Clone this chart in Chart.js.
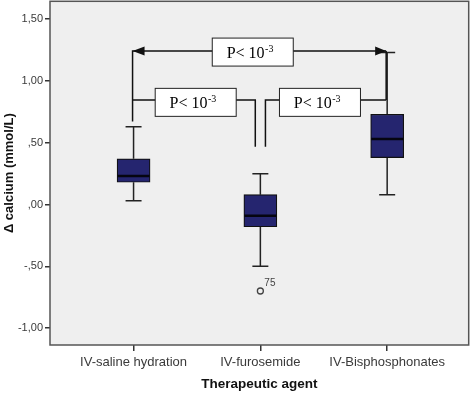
<!DOCTYPE html>
<html>
<head>
<meta charset="utf-8">
<script src="https://cdn.jsdelivr.net/npm/chart.js@4.4.0/dist/chart.umd.min.js"></script>
<style>
  html, body { margin: 0; padding: 0; background: #fff; overflow: hidden; }
  #wrap { width: 474px; height: 399px; margin-top: -4px; }
</style>
</head>
<body>
<div id="wrap"><canvas id="boxChart"></canvas></div>
<script>
// Box plot summaries, change of calcium (mmol/L) per therapeutic agent
var agents = ["IV-saline hydration", "IV-furosemide", "IV-Bisphosphonates"];
var whiskerLow = [0.03, -0.50, 0.08];
var quartile1 = [0.18, -0.18, 0.38];
var medians = [0.23, -0.09, 0.53];
var quartile3 = [0.37, 0.08, 0.73];
var whiskerHigh = [0.63, 0.25, 1.23];

// outliers
var outlierAgent = [2];
var outlierValues = [-0.70];
var outlierIds = ["75"];

var yTicks = [-1, -0.5, 0, 0.5, 1, 1.5];

// significance brackets (value levels) and their labels
var pText = "P< 10";
var pExp = "-3";
var bracketTop = 1.242;
var bracketMid = 0.847;
var saltDrop = 0.672;
var furoDrop = 0.468;
var pLabels = [
  { x: 1.94, y: 1.234 },
  { x: 1.49, y: 0.827 },
  { x: 2.47, y: 0.827 }
];

function fmt(v) {
  var s = Math.abs(v).toFixed(2).replace(".", ",");
  if (Math.abs(v) < 1) s = s.substring(1);
  return (v < 0 ? "-" : "") + s;
}

var boxData = agents.map(function (a, i) {
  return { x: i + 1, y: [quartile1[i], quartile3[i]] };
});
var outlierData = outlierValues.map(function (v, i) {
  return { x: outlierAgent[i], y: v };
});

// plot area background + frame
var framePlugin = {
  id: "frame",
  beforeDraw: function (chart) {
    var a = chart.chartArea, ctx = chart.ctx;
    ctx.save();
    ctx.fillStyle = "#efefef";
    ctx.fillRect(a.left, a.top, a.right - a.left, a.bottom - a.top);
    ctx.restore();
  },
  afterDraw: function (chart) {
    var a = chart.chartArea, ctx = chart.ctx;
    ctx.save();
    ctx.strokeStyle = "#555";
    ctx.lineWidth = 1.5;
    ctx.strokeRect(a.left, a.top, a.right - a.left, a.bottom - a.top);
    ctx.restore();
  }
};

// whiskers and medians
var boxPlugin = {
  id: "boxes",
  beforeDatasetsDraw: function (chart) {
    var xs = chart.scales.x, ys = chart.scales.y, ctx = chart.ctx;
    ctx.save();
    ctx.strokeStyle = "#222";
    ctx.lineWidth = 1.5;
    agents.forEach(function (a, i) {
      var x = xs.getPixelForValue(i + 1);
      var hi = ys.getPixelForValue(whiskerHigh[i]);
      var lo = ys.getPixelForValue(whiskerLow[i]);
      var q1 = ys.getPixelForValue(quartile1[i]);
      var q3 = ys.getPixelForValue(quartile3[i]);
      ctx.beginPath();
      ctx.moveTo(x, q3); ctx.lineTo(x, hi);
      ctx.moveTo(x - 8, hi); ctx.lineTo(x + 8, hi);
      ctx.moveTo(x, q1); ctx.lineTo(x, lo);
      ctx.moveTo(x - 8, lo); ctx.lineTo(x + 8, lo);
      ctx.stroke();
    });
    ctx.restore();
  },
  afterDatasetsDraw: function (chart) {
    var xs = chart.scales.x, ys = chart.scales.y, ctx = chart.ctx;
    ctx.save();
    ctx.strokeStyle = "#050510";
    ctx.lineWidth = 2.5;
    agents.forEach(function (a, i) {
      var x = xs.getPixelForValue(i + 1);
      var m = ys.getPixelForValue(medians[i]);
      ctx.beginPath();
      ctx.moveTo(x - 16, m); ctx.lineTo(x + 16, m);
      ctx.stroke();
    });
    // outlier ids
    ctx.fillStyle = "#444";
    ctx.font = "10px 'Liberation Sans', Arial, sans-serif";
    ctx.textAlign = "left";
    ctx.textBaseline = "alphabetic";
    outlierValues.forEach(function (v, i) {
      var x = xs.getPixelForValue(outlierAgent[i]);
      var y = ys.getPixelForValue(v);
      ctx.fillText(outlierIds[i], x + 4, y - 5);
    });
    ctx.restore();
  }
};

// significance brackets
var bracketPlugin = {
  id: "brackets",
  afterDatasetsDraw: function (chart) {
    var xs = chart.scales.x, ys = chart.scales.y, ctx = chart.ctx;
    var x1 = xs.getPixelForValue(1) - 1;
    var x2a = xs.getPixelForValue(1.96);
    var x2b = xs.getPixelForValue(2.04);
    var x3 = xs.getPixelForValue(3) - 1;
    var yTop = ys.getPixelForValue(bracketTop);
    var yMid = ys.getPixelForValue(bracketMid);
    var ySalt = ys.getPixelForValue(saltDrop);
    var yFuro = ys.getPixelForValue(furoDrop);
    ctx.save();
    ctx.strokeStyle = "#111";
    ctx.fillStyle = "#111";
    ctx.lineWidth = 1.5;
    ctx.beginPath();
    // wide bracket
    ctx.moveTo(x1, ySalt); ctx.lineTo(x1, yTop); ctx.lineTo(x3, yTop);
    ctx.moveTo(x3, yTop); ctx.lineTo(x3, yMid);
    // saline vs furosemide
    ctx.moveTo(x1, yMid); ctx.lineTo(x2a, yMid); ctx.lineTo(x2a, yFuro);
    // furosemide vs bisphosphonates
    ctx.moveTo(x2b, yFuro); ctx.lineTo(x2b, yMid); ctx.lineTo(x3, yMid);
    ctx.stroke();
    // arrowheads
    ctx.beginPath();
    ctx.moveTo(x1, yTop); ctx.lineTo(x1 + 12, yTop - 4.5); ctx.lineTo(x1 + 12, yTop + 4.5); ctx.closePath();
    ctx.moveTo(x3, yTop); ctx.lineTo(x3 - 11, yTop - 4.5); ctx.lineTo(x3 - 11, yTop + 4.5); ctx.closePath();
    ctx.fill();
    // labels
    pLabels.forEach(function (p) {
      var cx = xs.getPixelForValue(p.x);
      var cy = ys.getPixelForValue(p.y);
      var w = 81, h = 28;
      ctx.fillStyle = "#fff";
      ctx.fillRect(cx - w / 2, cy - h / 2, w, h);
      ctx.strokeStyle = "#222";
      ctx.lineWidth = 1;
      ctx.strokeRect(cx - w / 2, cy - h / 2, w, h);
      ctx.fillStyle = "#000";
      ctx.font = "16px 'Liberation Serif', 'Times New Roman', serif";
      var tw = ctx.measureText(pText).width;
      ctx.font = "10px 'Liberation Serif', 'Times New Roman', serif";
      var ew = ctx.measureText(pExp).width;
      var start = cx - (tw + ew) / 2 - 3;
      ctx.textAlign = "left";
      ctx.textBaseline = "alphabetic";
      ctx.font = "16px 'Liberation Serif', 'Times New Roman', serif";
      ctx.fillText(pText, start, cy + 6);
      ctx.font = "10px 'Liberation Serif', 'Times New Roman', serif";
      ctx.fillText(pExp, start + tw + 0.5, cy - 0.5);
    });
    ctx.restore();
  }
};

var ctx = document.getElementById("boxChart").getContext("2d");
var chart = new Chart(ctx, {
  type: "bar",
  data: {
    datasets: [
      {
        data: boxData,
        backgroundColor: "#25256f",
        borderColor: "#111",
        borderWidth: 1.2,
        borderSkipped: false,
        barThickness: 33
      },
      {
        type: "scatter",
        data: outlierData,
        pointStyle: "circle",
        pointRadius: 3,
        borderColor: "#444",
        backgroundColor: "rgba(255,255,255,0)",
        borderWidth: 1.3
      }
    ]
  },
  options: {
    responsive: true,
    maintainAspectRatio: false,
    animation: false,
    layout: { padding: { top: 1, right: 3, left: 0, bottom: 0 } },
    plugins: {
      legend: { display: false },
      tooltip: { enabled: false }
    },
    scales: {
      x: {
        type: "linear",
        offset: false,
        min: 0.341,
        max: 3.643,
        afterBuildTicks: function (s) {
          s.ticks = [1, 2, 3].map(function (v) { return { value: v }; });
        },
        afterFit: function (s) {
          s.height = 50;
          s.paddingLeft = 0;
          s.paddingRight = 0;
        },
        ticks: {
          maxRotation: 0,
          autoSkip: false,
          padding: 4,
          color: "#3a3a3a",
          font: { family: "'Liberation Sans', Arial, sans-serif", size: 13 },
          callback: function (v) { return agents[v - 1]; }
        },
        grid: { offset: false, drawOnChartArea: false, tickLength: 6, color: "#333", lineWidth: 1.5 },
        border: { display: false },
        title: {
          display: true,
          text: "Therapeutic agent",
          color: "#111",
          padding: { top: 0, bottom: 3 },
          font: { family: "'Liberation Sans', Arial, sans-serif", size: 13.5, weight: "bold" }
        }
      },
      y: {
        min: -1.137,
        max: 1.645,
        afterBuildTicks: function (s) {
          s.ticks = yTicks.map(function (v) { return { value: v }; });
        },
        afterFit: function (s) {
          s.width = 50;
          s.paddingTop = 0;
          s.paddingBottom = 0;
        },
        ticks: {
          padding: 2,
          color: "#3a3a3a",
          font: { family: "'Liberation Sans', Arial, sans-serif", size: 11 },
          callback: function (v) { return fmt(v); }
        },
        grid: { drawOnChartArea: false, tickLength: 5, color: "#333", lineWidth: 1.5 },
        border: { display: false },
        title: {
          display: true,
          text: "Δ calcium (mmol/L)",
          color: "#111",
          padding: { top: 2, bottom: 0 },
          font: { family: "'Liberation Sans', Arial, sans-serif", size: 13, weight: "bold" }
        }
      }
    }
  },
  plugins: [framePlugin, boxPlugin, bracketPlugin]
});
</script>
</body>
</html>
